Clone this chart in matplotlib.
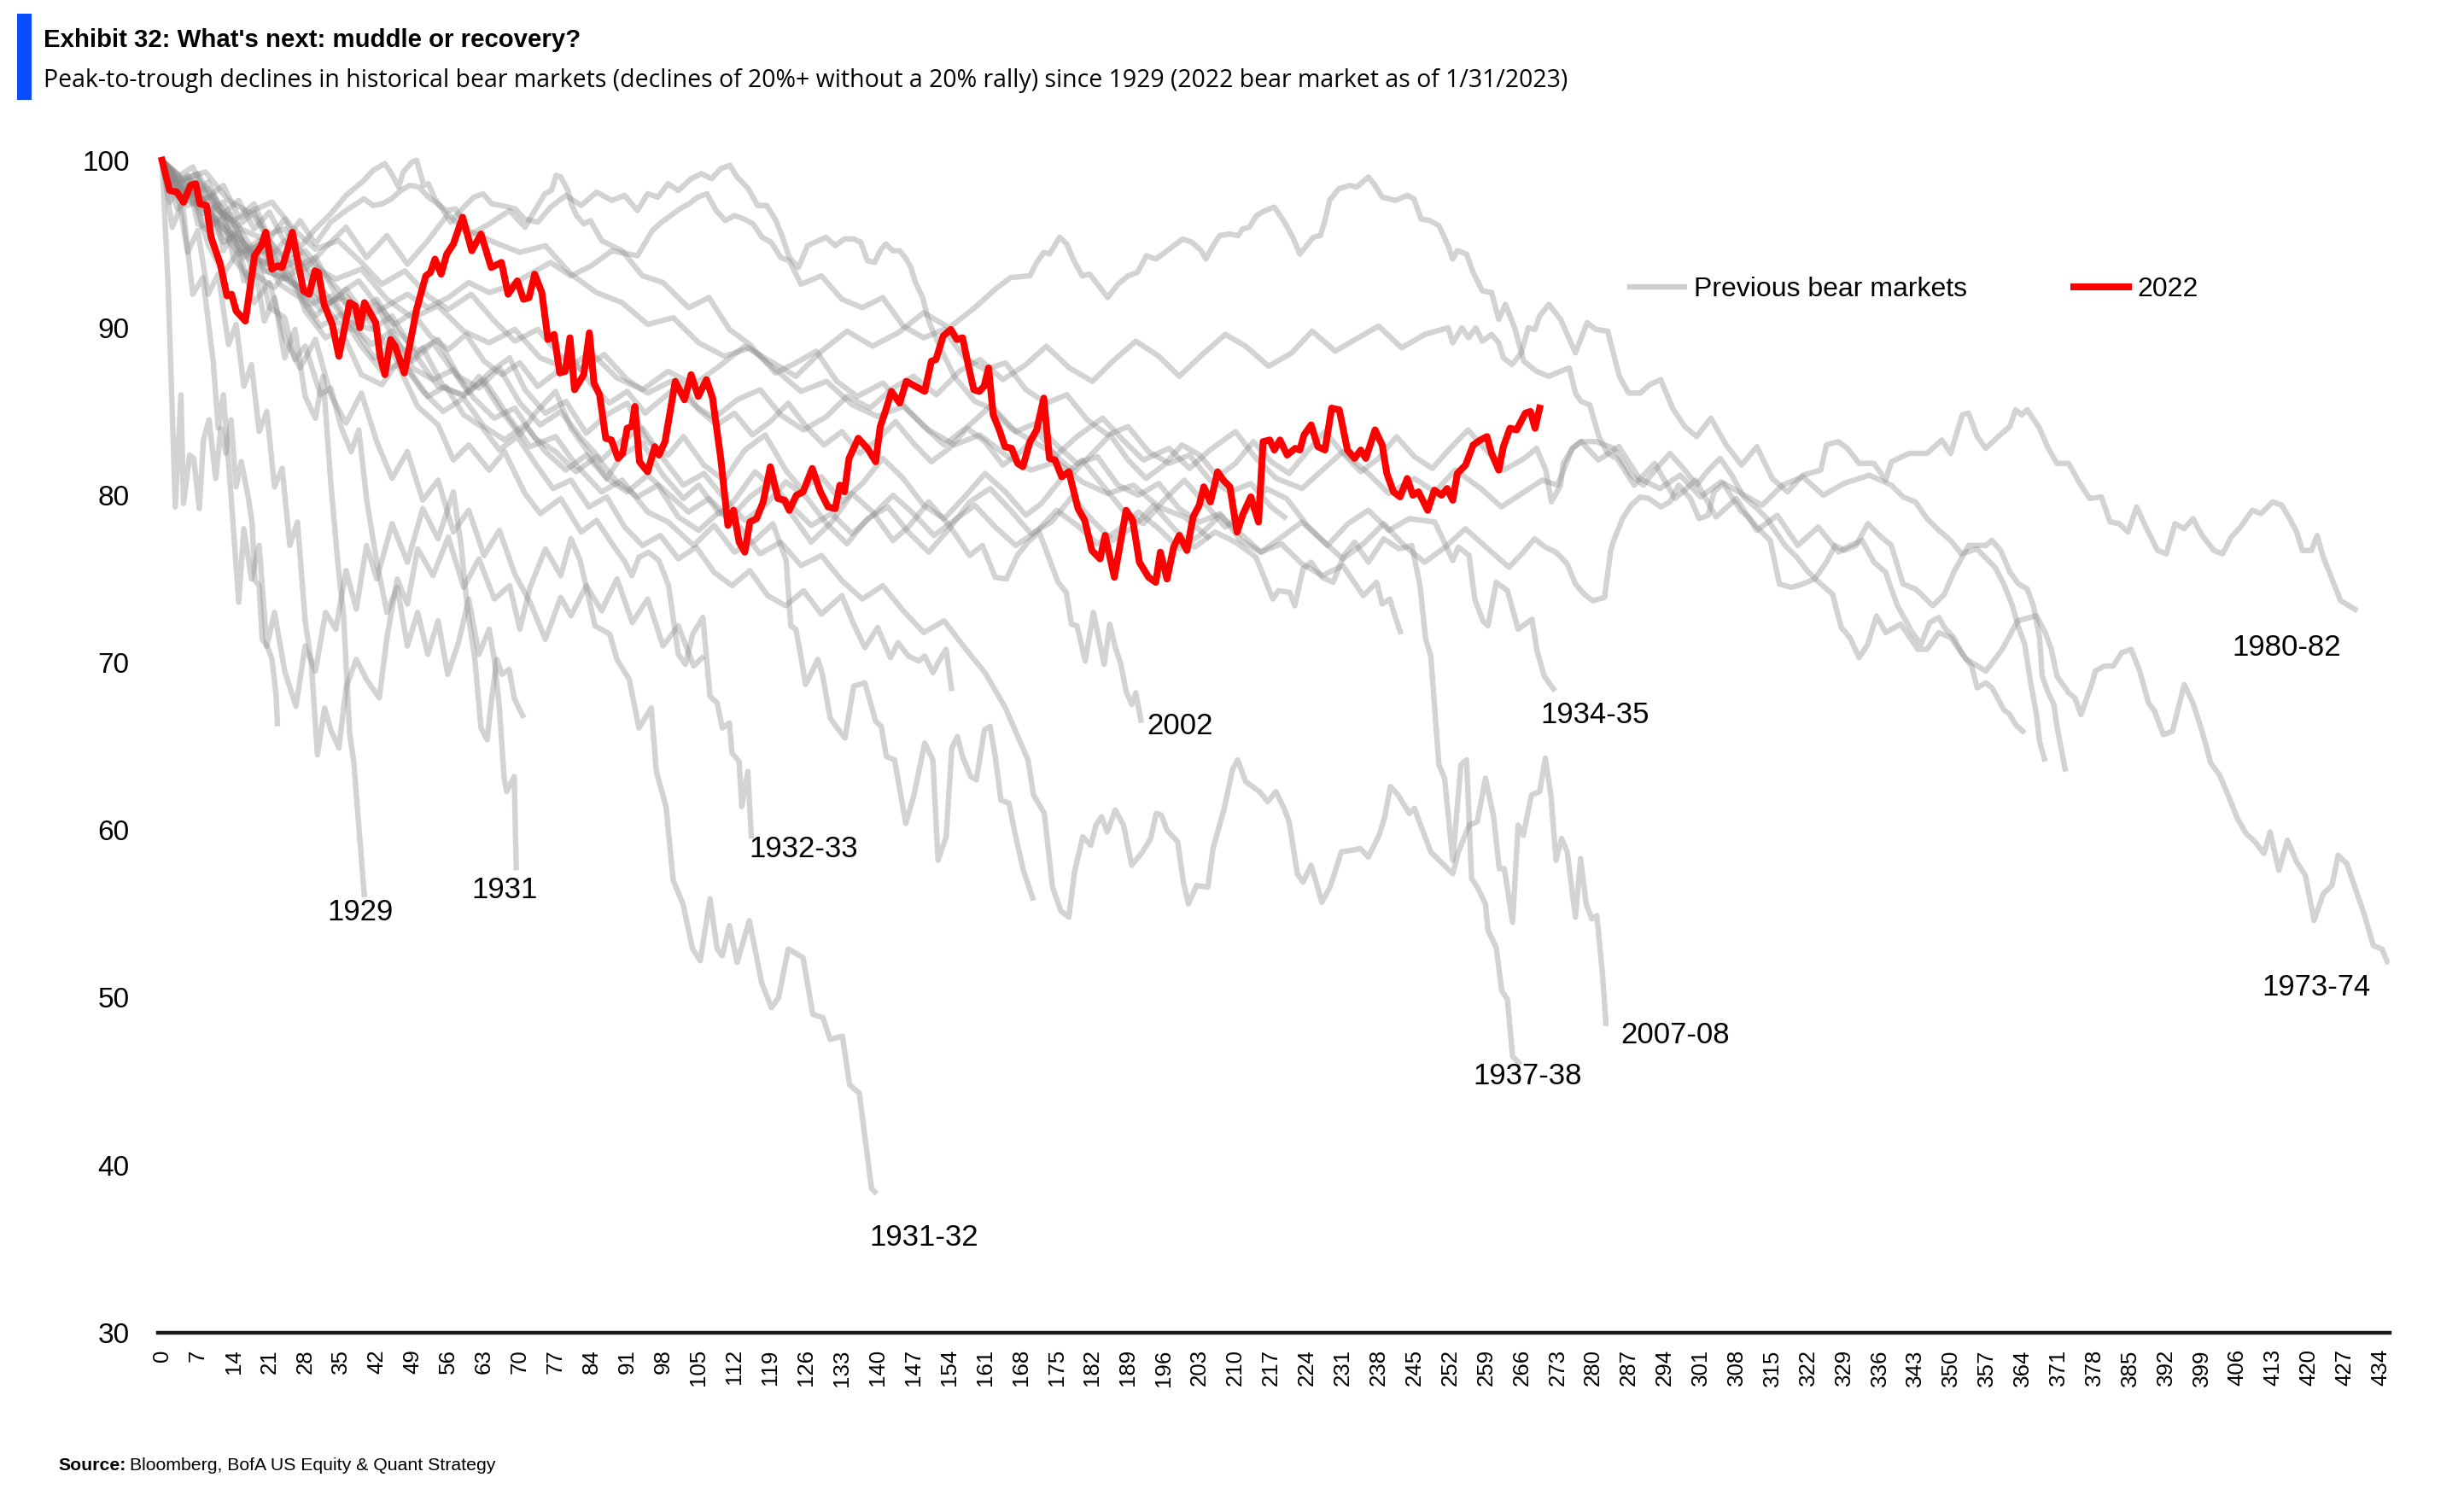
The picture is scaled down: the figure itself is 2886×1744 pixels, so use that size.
import matplotlib
matplotlib.use("Agg")
import matplotlib.pyplot as plt
from matplotlib.lines import Line2D
from matplotlib.patches import Rectangle

# ---- data: (trading day, index level with peak = 100) ----

bear_2022 = [(0, 100.0), (1.5, 98.2), (2.9, 98.1), (4.2, 97.5), (5.6, 98.5), (6.6, 98.6), (7.4, 97.4),
             (8.7, 97.3), (9.6, 95.4), (11.4, 93.8), (12.7, 91.9), (13.6, 92.0), (14.5, 91.0), (16.3, 90.4),
             (18.1, 94.3), (19.4, 94.9), (20.3, 95.7), (21.5, 93.5), (22.6, 93.7), (23.5, 93.6), (24.3, 94.4),
             (25.5, 95.7), (26.6, 93.9), (27.7, 92.2), (28.8, 92.0), (29.9, 93.4), (30.6, 93.3), (31.7, 91.4),
             (33.3, 90.2), (34.6, 88.3), (36.7, 91.5), (37.8, 91.3), (38.7, 90.0), (39.6, 91.5), (41.8, 90.3),
             (42.7, 88.2), (43.6, 87.2), (44.7, 89.3), (45.6, 88.9), (47.4, 87.3), (49.8, 91.1), (51.6, 93.1),
             (52.5, 93.3), (53.4, 94.1), (54.6, 93.2), (55.7, 94.4), (57.0, 95.0), (58.8, 96.6), (60.6, 94.6),
             (62.4, 95.6), (64.4, 93.6), (66.4, 93.9), (67.7, 92.0), (69.5, 92.8), (70.7, 91.7), (71.8, 91.8),
             (72.9, 93.2), (74.3, 92.1), (75.5, 89.3), (76.7, 89.6), (77.8, 87.3), (78.9, 87.4), (79.8, 89.4),
             (80.7, 86.3), (82.5, 87.2), (83.6, 89.7), (84.5, 86.7), (85.6, 86.0), (86.8, 83.4), (87.9, 83.3),
             (89.2, 82.2), (90.1, 82.5), (91.0, 84.0), (91.9, 84.1), (92.5, 85.3), (93.4, 82.0), (95.0, 81.4),
             (96.4, 82.9), (97.2, 82.4), (98.4, 83.2), (100.4, 86.8), (102.2, 85.7), (103.5, 87.2), (104.9, 85.9),
             (106.5, 86.9), (107.7, 85.8), (109.3, 82.2), (110.7, 78.2), (111.8, 79.1), (112.9, 77.2), (114.0, 76.6),
             (115.0, 78.4), (116.3, 78.6), (117.6, 79.6), (119.0, 81.7), (120.5, 79.8), (121.8, 79.7), (122.7, 79.1),
             (124.1, 80.0), (125.4, 80.2), (127.2, 81.6), (128.8, 80.2), (130.3, 79.3), (131.7, 79.2), (132.6, 80.6),
             (133.5, 80.2), (134.4, 82.2), (136.2, 83.4), (138.0, 82.8), (139.6, 82.0), (140.5, 84.1), (141.6, 85.1),
             (142.7, 86.2), (144.3, 85.5), (145.6, 86.8), (147.4, 86.5), (149.2, 86.2), (150.5, 88.0), (151.4, 88.1),
             (152.8, 89.5), (154.3, 89.9), (155.5, 89.3), (156.6, 89.4), (157.7, 87.8), (158.8, 86.3), (159.9, 86.2),
             (160.8, 86.5), (161.7, 87.6), (162.6, 84.8), (163.8, 83.9), (164.9, 82.9), (166.2, 82.8), (167.4, 81.9),
             (168.4, 81.7), (169.8, 83.2), (171.1, 83.9), (172.5, 85.8), (173.6, 82.2), (174.7, 82.1), (176.0, 81.1),
             (177.4, 81.4), (179.2, 79.2), (180.5, 78.5), (181.9, 76.7), (183.5, 76.2), (184.5, 77.6), (186.3, 75.1),
             (188.6, 79.1), (189.9, 78.5), (191.2, 76.0), (193.0, 75.1), (194.4, 74.8), (195.3, 76.6), (196.6, 75.0),
             (197.9, 76.9), (199.0, 77.6), (200.5, 76.7), (201.7, 78.7), (202.9, 79.4), (203.8, 80.5), (205.1, 79.6),
             (206.5, 81.4), (207.6, 80.9), (208.9, 80.5), (210.3, 77.8), (211.5, 78.9), (213.0, 79.9), (214.5, 78.4),
             (215.4, 83.2), (216.7, 83.3), (217.6, 82.7), (218.7, 83.3), (220.1, 82.4), (221.7, 82.8), (222.6, 82.7),
             (223.4, 83.6), (224.8, 84.2), (226.1, 82.9), (227.5, 82.7), (228.8, 85.2), (230.3, 85.1), (231.9, 82.7),
             (233.3, 82.2), (234.5, 82.7), (235.5, 82.2), (237.3, 83.9), (238.7, 83.0), (239.6, 81.3), (240.9, 80.2),
             (242.2, 79.9), (243.6, 81.0), (244.7, 80.0), (245.8, 80.2), (247.6, 79.1), (248.9, 80.3), (250.3, 80.0),
             (251.4, 80.4), (252.5, 79.7), (253.4, 81.3), (255.0, 81.8), (256.5, 83.0), (257.9, 83.3), (259.2, 83.5),
             (260.1, 82.5), (261.5, 81.5), (262.4, 82.9), (263.7, 84.0), (265.0, 83.9), (266.7, 84.9), (267.7, 85.0),
             (268.6, 84.0), (269.5, 85.2)]

s1929 = [(0, 100), (2, 99.3), (4, 97.6), (6, 98.5), (8, 96.1), (10, 97.2), (12, 94.6), (14, 95.7), (16, 92.8),
         (18, 93.9), (20, 90.4), (22, 91.8), (24, 88.2), (26, 89.9), (28, 85.9), (30, 84.6), (31.5, 87.1),
         (33, 80.8), (34.5, 75.6), (35.5, 72.9), (36.7, 65.8), (37.5, 64.1), (38.5, 60.2), (39.6, 56.0)]

s_early_crash = [(0, 100), (1.2, 92.5), (2.6, 79.3), (3.7, 86.0), (4.2, 79.5), (5.4, 82.4), (6.2, 82.2), (7.3, 79.2),
                 (8.1, 83.3), (9.2, 84.5), (10.5, 81.0), (11.5, 84.0), (12.5, 82.5), (13.5, 84.5), (14.5, 80.5),
                 (15.5, 82.0), (16.8, 80.0), (17.6, 78.4), (18.2, 74.9), (19.0, 74.6), (19.6, 71.4), (20.7, 70.9),
                 (21.5, 70.2), (22.3, 68.1), (22.6, 66.2)]

s1931_32 = [(0, 100), (1.5, 97.5), (3, 98.2), (5, 94.5), (7, 95.8), (9, 92.0), (11, 93.2), (13, 89.0), (14.5, 90.2),
            (16, 86.5), (17.5, 87.8), (19, 83.8), (20.5, 85.0), (22, 80.5), (23.5, 81.6), (25, 77.0), (26.5, 78.4),
            (28, 72.5), (29.2, 70.0), (30.4, 64.5), (31.8, 67.3), (33, 66.0), (34.6, 64.9), (36, 68.5), (38, 70.2),
            (40, 69.0), (42.5, 67.9), (44, 71.5), (46, 75.0), (48, 73.5), (50, 76.8), (53, 75.2), (56, 77.5),
            (59, 74.5), (62, 76.2), (65, 73.8), (68, 74.6), (70, 72.0), (72, 74.5), (75, 76.8), (78, 75.2),
            (80, 77.4), (81.8, 76.1), (84.7, 72.2), (87.6, 71.7), (89.0, 70.2), (91.4, 69.0), (93.3, 66.1),
            (95.7, 67.3), (96.7, 63.5), (98.6, 61.4), (100.0, 57.0), (101.9, 55.6), (103.8, 52.9), (105.3, 52.2),
            (107.2, 55.9), (108.6, 52.9), (109.6, 52.5), (111.0, 54.3), (112.5, 52.1), (114.9, 54.6), (117.3, 50.9),
            (119.2, 49.4), (120.6, 50.0), (122.5, 52.9), (125.4, 52.4), (127.3, 49.0), (129.3, 48.8), (130.7, 47.5),
            (133.1, 47.7), (134.5, 44.8), (136.4, 44.3), (138.8, 38.6), (139.8, 38.3)]

s1931 = [(0, 100), (2, 98.6), (5, 98.9), (7, 96.2), (9, 95.8), (12, 96.9), (14, 94.1), (17, 93.0), (19, 93.8),
         (21, 91.2), (24, 90.6), (26, 88.1), (28, 88.9), (31, 86.0), (33, 86.4), (35, 84.1), (37, 82.6),
         (38.5, 83.9), (40, 79.8), (42, 76.0), (44, 73.0), (46, 74.5), (48, 71.0), (50, 73.0), (52, 70.5),
         (54, 72.5), (55.9, 69.3), (58, 71.2), (60, 73.8), (62, 70.5), (64, 72.0), (65.0, 70.2), (66.0, 67.3),
         (66.9, 63.2), (67.4, 62.3), (68.9, 63.2), (69.3, 57.6)]

s_fast_fall = [(0, 100), (2, 96.0), (4, 97.5), (6, 92.0), (8, 93.0), (10, 88.0), (11, 84.0), (12, 86.0), (13.5, 80.0),
               (15, 73.6), (16, 78.0), (17.5, 75.0), (19, 77.0), (20.5, 71.0), (22, 73.0), (24, 69.5), (26.2, 67.4),
               (28, 71.0), (30, 69.5), (32, 73.0), (34, 72.0), (36, 75.5), (38, 73.2), (40, 77.0), (42, 75.0),
               (45, 78.3), (48, 76.0), (51, 79.2), (54, 77.4), (57, 80.2), (58.5, 77.0), (59.8, 73.1), (61.2, 70.2),
               (62.4, 66.1), (63.6, 65.4), (64.5, 67.9), (65.5, 70.2), (66.5, 69.3), (67.9, 69.6), (68.9, 67.9),
               (69.8, 67.3), (70.8, 66.7)]

s1932_33 = [(0, 100), (3, 98.4), (5, 99.1), (8, 97.6), (12, 95.1), (15, 95.7), (18, 93.2), (22, 92.4), (25, 93.6),
            (28, 91.0), (32, 89.4), (35, 89.9), (39, 87.2), (43, 86.6), (46, 87.9), (50, 85.3), (54, 84.2),
            (57, 82.1), (60, 83.0), (64, 81.5), (67, 82.6), (71, 80.1), (74, 78.9), (78, 79.8), (82, 77.8),
            (85, 78.5), (88.5, 76.9), (90.4, 76.1), (91.9, 75.2), (93.3, 76.3), (95.2, 76.6), (97.2, 76.1),
            (99.1, 74.6), (101, 70.5), (102.4, 69.9), (103.8, 71.7), (105.8, 72.7), (107.2, 68.0), (108.6, 67.6),
            (109.6, 66.1), (111.0, 66.4), (111.5, 64.6), (112.9, 64.1), (113.4, 61.4), (114.6, 63.5), (115.3, 59.5)]

s2002 = [(0, 100), (3, 98.1), (6, 98.6), (9, 96.7), (13, 95.9), (16, 94.2), (19, 95.0), (23, 93.3), (26, 92.4),
         (30, 90.7), (33, 91.5), (36, 92.3), (40, 90.6), (44, 88.9), (47, 87.6), (51, 88.8), (55, 86.5), (59, 85.9),
         (62, 87.1), (66, 85.2), (70, 83.6), (73, 84.9), (77, 86.2), (80, 84.0), (84, 82.3), (87, 81.0), (90, 82.4),
         (94, 83.1), (98, 81.2), (102, 79.8), (105, 80.6), (109, 78.9), (112, 79.7), (116, 81.4), (120, 80.3),
         (124, 78.5), (127, 77.2), (131, 78.4), (135, 80.1), (139, 79.0), (143, 77.3), (146, 78.1), (150, 79.6),
         (154, 78.2), (158, 76.4), (160.5, 77.0), (163.0, 75.1), (165.2, 75.0), (167.3, 76.4), (169.4, 77.2),
         (171.6, 77.8), (173.2, 76.5), (175.3, 74.8), (176.9, 74.2), (177.9, 72.3), (179.0, 72.2), (180.6, 70.1),
         (182.2, 73.0), (184.3, 69.9), (185.4, 72.3), (186.5, 70.9), (187.5, 70.0), (188.6, 68.3), (189.7, 67.5),
         (190.5, 68.2), (191.6, 66.4)]

s1934_35 = [(0, 100), (3, 98.7), (6, 97.4), (10, 97.9), (13, 95.8), (16, 94.6), (20, 95.4), (24, 93.1), (27, 92.3),
            (31, 91.1), (35, 92.0), (38, 90.3), (42, 91.4), (45, 89.5), (49, 88.0), (53, 89.1), (57, 87.4),
            (60, 86.1), (64, 87.3), (68, 88.2), (71, 86.3), (75, 84.9), (79, 85.6), (83, 83.7), (87, 84.8),
            (91, 85.5), (95, 83.2), (99, 82.4), (102, 83.5), (106, 81.8), (110, 80.9), (114, 82.7), (118, 83.6),
            (122, 81.5), (125, 80.4), (129, 81.1), (133, 79.6), (137, 80.7), (141, 82.2), (145, 81.0), (149, 79.4),
            (153, 78.6), (157, 79.9), (161, 81.3), (165, 80.2), (169, 78.8), (172, 79.5), (176, 81.0), (180, 82.1),
            (184, 80.6), (188, 79.1), (192, 78.3), (196, 79.7), (200, 80.9), (204, 79.5), (208, 78.1), (212, 79.0),
            (216, 80.4), (220, 79.8), (224, 78.2), (228, 77.0), (232, 78.3), (236, 79.1), (240, 77.9), (244, 78.6),
            (249, 78.4), (252.5, 76.1), (253.6, 76.9), (255.7, 76.4), (256.8, 73.8), (258.4, 72.5), (259.4, 72.2),
            (261.0, 74.8), (263.2, 74.3), (265.3, 72.0), (268.0, 72.6), (269.0, 70.7), (270.4, 69.2), (272.5, 68.3)]

s1937_38 = [(0, 100), (4, 98.8), (7, 99.2), (11, 97.0), (15, 96.1), (18, 96.9), (22, 94.7), (26, 93.6), (30, 94.2),
            (34, 92.0), (38, 90.9), (42, 91.7), (46, 89.8), (50, 88.6), (54, 89.3), (58, 87.1), (62, 86.4),
            (66, 87.6), (70, 85.5), (74, 84.2), (78, 85.0), (82, 83.4), (86, 82.1), (90, 83.3), (94, 84.0),
            (98, 82.2), (102, 80.6), (106, 81.3), (110, 79.8), (114, 78.5), (118, 79.4), (122, 80.8), (126, 79.9),
            (130, 78.3), (134, 77.1), (138, 78.6), (142, 79.3), (146, 77.8), (150, 76.6), (154, 78.0), (158, 79.6),
            (162, 80.4), (166, 79.1), (170, 77.7), (174, 78.4), (178, 79.9), (182, 78.5), (186, 77.3), (190, 78.1),
            (194, 79.4), (198, 78.0), (202, 76.9), (206, 77.8), (210, 77.2), (214, 76.3), (217.3, 73.8),
            (218.4, 74.3), (220.6, 74.2), (221.6, 73.4), (223.2, 75.6), (224.8, 76.0), (226.9, 75.1), (229.1, 74.8),
            (231.2, 76.4), (233.3, 77.2), (236, 76.0), (239, 77.4), (242, 76.8), (244.5, 77.0), (246.1, 74.6),
            (247.2, 71.4), (248.2, 70.4), (249.8, 63.9), (250.9, 63.1), (252.5, 58.2), (254.1, 63.9), (255.2, 64.2),
            (256.2, 57.1), (257.3, 56.6), (258.9, 55.6), (259.4, 54.0), (261.0, 53.0), (262.1, 50.4), (263.2, 49.9),
            (264.2, 46.5), (265.8, 46.0)]

s2007_08 = [(0, 100), (3, 98.2), (6, 98.7), (10, 96.6), (13, 95.6), (17, 94.1), (21, 94.8), (25, 93.0), (29, 91.4),
            (33, 91.9), (37, 90.2), (41, 89.0), (45, 89.8), (49, 87.6), (53, 86.9), (57, 87.5), (61, 85.8),
            (65, 84.6), (69, 85.2), (73, 83.4), (77, 82.6), (81, 81.4), (85, 82.3), (89, 80.8), (93, 79.9),
            (97, 80.6), (101, 78.7), (105, 77.9), (109, 79.0), (113, 78.1), (117, 76.5), (121, 77.2), (125, 75.8),
            (129, 76.4), (133, 74.9), (137, 73.8), (141, 74.6), (145, 73.1), (149, 71.8), (153, 72.5), (157, 70.9),
            (161, 69.4), (165, 67.3), (169.4, 64.2), (170.5, 62.1), (172.6, 61.0), (174.2, 56.6), (175.8, 55.2),
            (177.4, 54.8), (178.5, 57.5), (180.1, 59.6), (181.7, 59.1), (182.7, 60.3), (183.8, 60.8), (184.9, 59.9),
            (186.5, 61.2), (188.1, 60.3), (189.7, 57.9), (191.8, 58.7), (193.4, 59.5), (194.5, 61.0), (195.5, 60.9),
            (196.6, 60.0), (198.7, 59.3), (199.8, 56.9), (200.8, 55.6), (202.4, 56.7), (204.6, 56.6), (205.6, 58.9),
            (207.8, 61.3), (209.4, 63.6), (210.4, 64.2), (212.0, 62.9), (214.7, 62.3), (216.3, 61.7), (217.9, 62.3),
            (219.5, 61.3), (220.5, 60.5), (222.1, 57.4), (223.2, 56.9), (224.8, 57.9), (226.9, 55.7), (228.5, 56.6),
            (230.7, 58.7), (232.8, 58.8), (234.4, 58.9), (236.0, 58.4), (238.1, 59.7), (239.2, 60.8), (240.3, 62.6),
            (241.8, 62.1), (244.0, 61.0), (245.0, 61.3), (248.2, 58.7), (252.5, 57.4), (253.6, 58.7), (255.7, 60.3),
            (257.3, 60.5), (258.9, 63.1), (260.5, 60.8), (261.6, 57.7), (262.6, 57.7), (264.2, 54.5), (265.3, 60.3),
            (266.3, 59.7), (267.9, 62.1), (269.5, 62.3), (270.6, 64.3), (271.7, 62.1), (272.7, 58.2), (273.8, 59.5),
            (274.9, 58.7), (276.5, 54.8), (277.5, 58.3), (278.6, 55.6), (279.7, 54.7), (280.7, 54.9), (281.8, 51.4),
            (282.5, 48.3)]

s_mid_a = [(0, 100), (5, 97.3), (9, 97.8), (14, 95.9), (18, 94.2), (23, 93.5), (27, 94.1), (32, 92.0), (36, 90.4),
           (41, 89.9), (45, 90.7), (50, 88.2), (54, 86.5), (59, 86.0), (63, 86.9), (68, 84.6), (72, 82.9), (77, 83.5),
           (81, 81.8), (86, 80.2), (90, 80.9), (95, 79.0), (99, 78.4), (104, 77.0), (108, 78.2), (112, 76.6),
           (116, 77.3), (119.5, 78.3), (122.1, 76.1), (123.0, 72.2), (124.0, 72.0), (124.9, 70.5), (125.9, 68.7),
           (126.9, 69.3), (128.3, 70.2), (129.2, 69.3), (130.7, 66.7), (132.1, 66.1), (133.6, 65.5), (135.3, 68.6),
           (137.5, 68.8), (139.6, 66.5), (140.7, 66.2), (141.7, 64.4), (143.3, 64.2), (145.5, 60.4), (147.1, 62.1),
           (149.2, 65.2), (150.8, 64.2), (151.8, 58.2), (153.4, 59.6), (154.5, 64.9), (155.6, 65.6), (156.6, 64.4),
           (158.2, 63.2), (159.3, 63.0), (160.9, 66.0), (162.0, 66.2), (163.0, 64.4), (164.1, 61.8), (165.7, 61.6),
           (166.8, 59.9), (168.5, 57.6), (170.5, 55.8)]

s_mid_b = [(0, 100), (3, 98.5), (6.5, 98.0), (10, 96.2), (13.5, 96.8), (17, 95.0), (20.5, 93.4), (24, 92.9),
           (27.5, 93.7), (31, 91.6), (34.5, 90.3), (38, 89.8), (41.5, 88.2), (45, 88.9), (48.5, 87.4), (52, 85.9),
           (55.5, 86.5), (59, 84.8), (62.5, 84.1), (66, 82.7), (69.5, 83.5), (73, 81.9), (76.5, 80.4), (80, 80.9),
           (83.5, 79.3), (87, 79.9), (90.5, 78.1), (94, 77.0), (97.5, 77.6), (101, 76.2), (104.5, 76.9), (108, 75.4),
           (111.5, 74.6), (115, 75.5), (118.5, 74.0), (122, 73.4), (125.5, 74.3), (129, 72.9), (133, 74.0),
           (135.3, 72.3), (137.5, 70.9), (140, 72.1), (142.5, 70.3), (144, 71.2), (146.0, 70.4), (148.1, 70.1),
           (149.2, 70.4), (150.8, 69.4), (151.8, 70.0), (153.4, 70.8), (154.5, 68.3)]

s1980_82 = [(0, 100), (4, 98.9), (8.5, 99.3), (13, 97.6), (17, 96.9), (21.5, 97.5), (26, 95.8), (30, 94.7),
            (34.5, 95.2), (39, 93.9), (43, 92.6), (47.5, 93.4), (52, 91.9), (56, 91.1), (60.5, 92.0), (65, 90.4),
            (69, 89.2), (73.5, 89.9), (78, 88.3), (82, 87.5), (86.5, 88.4), (91, 86.9), (95, 86.1), (99.5, 86.8),
            (104, 85.4), (108, 84.6), (112.5, 85.7), (117, 86.3), (121, 84.8), (125.5, 83.9), (130, 84.7),
            (134, 85.9), (138.5, 85.2), (143, 86.4), (147, 87.1), (151.5, 86.0), (156, 87.4), (160, 88.1),
            (164.5, 86.9), (169, 87.8), (173, 88.9), (177.5, 87.6), (182, 86.8), (186, 88.0), (190.5, 89.2),
            (195, 88.3), (199, 87.1), (203.5, 88.4), (208, 89.6), (212, 88.9), (216.5, 87.7), (221, 88.5),
            (225, 89.8), (229.5, 88.6), (234, 89.4), (238, 90.1), (242.5, 88.8), (247, 89.6), (251.6, 90.0),
            (252.5, 89.1), (254.3, 90.0), (255.6, 89.4), (257.0, 90.0), (258.3, 89.2), (260.1, 89.6), (261.5, 89.1),
            (262.4, 88.2), (264.1, 87.8), (265.9, 88.5), (267.3, 90.0), (268.6, 89.9), (269.5, 90.7), (271.3, 91.4),
            (273.6, 90.5), (276.5, 88.5), (278.8, 90.3), (280.5, 89.9), (282.8, 89.8), (285.1, 87.1), (286.9, 86.1),
            (289.2, 86.1), (291, 86.6), (293.2, 86.9), (295.5, 85.2), (297.9, 84.1), (300.2, 83.5), (303, 84.6),
            (306, 83.0), (309, 81.8), (312, 82.9), (315, 81.0), (318, 80.2), (321, 81.2), (324.5, 81.5),
            (325.6, 83.0), (327.9, 83.2), (329.7, 82.8), (332.0, 81.9), (334.9, 81.9), (337.2, 80.9), (338.3, 82.0),
            (341.8, 82.5), (345.3, 82.5), (348.2, 83.3), (349.9, 82.5), (352.2, 84.8), (353.4, 84.9), (355.1, 83.5),
            (356.8, 82.8), (359.2, 83.5), (361.5, 84.1), (362.6, 85.1), (363.8, 84.8), (364.9, 85.1), (367.3, 84.0),
            (369.0, 82.8), (370.7, 81.9), (373.0, 81.9), (374.8, 80.9), (377.1, 79.8), (379.4, 79.9), (381.1, 78.4),
            (382.9, 78.3), (384.6, 77.8), (386.3, 79.3), (388.1, 78.1), (390.4, 76.7), (392.1, 76.5), (393.8, 78.3),
            (395.6, 78.0), (397.3, 78.6), (399.1, 77.6), (401.4, 76.7), (403.1, 76.5), (404.8, 77.5), (406.6, 78.1),
            (408.9, 79.1), (410.6, 78.9), (412.9, 79.6), (414.7, 79.4), (416.4, 78.5), (417.6, 77.8), (418.7, 76.7),
            (420.5, 76.7), (421.6, 77.6), (422.8, 76.3), (424.5, 75.0), (426.2, 73.7), (429.5, 73.1)]

s1973_74 = [(0, 100), (3.5, 98.6), (7, 98.9), (10.5, 97.1), (14, 96.4), (17.5, 96.9), (21, 95.2), (24.5, 94.0),
            (28, 94.6), (31.5, 93.3), (35, 92.1), (38.5, 92.8), (42, 91.4), (45.5, 90.2), (49, 90.9), (52.5, 89.5),
            (56, 88.7), (59.5, 89.6), (63, 88.0), (66.5, 87.2), (70, 87.9), (73.5, 86.5), (77, 87.3), (80.5, 88.1),
            (84, 86.6), (87.5, 85.5), (91, 86.2), (94.5, 84.9), (98, 85.8), (101.5, 86.7), (105, 85.1), (108.5, 84.2),
            (112, 84.9), (115.5, 83.6), (119, 84.4), (122.5, 85.5), (126, 84.1), (129.5, 83.0), (133, 83.8),
            (136.5, 82.5), (140, 83.3), (143.5, 84.4), (147, 83.1), (150.5, 82.0), (154, 82.8), (157.5, 84.0),
            (161, 83.2), (164.5, 81.8), (168, 82.6), (171.5, 83.7), (175, 82.3), (178.5, 81.4), (182, 82.5),
            (185.5, 83.6), (189, 82.1), (192.5, 81.0), (196, 81.8), (199.5, 83.0), (203, 82.4), (206.5, 81.1),
            (210, 81.9), (213.5, 83.2), (217, 82.0), (220.5, 81.3), (224, 82.6), (227.5, 83.8), (231, 82.5),
            (234.5, 81.4), (238, 82.2), (241.5, 83.5), (245, 82.3), (248.5, 81.6), (252, 82.8), (255.5, 83.9),
            (259, 82.7), (262.5, 81.5), (266.5, 82.2), (268.9, 82.8), (270.7, 81.5), (271.8, 79.6), (273.6, 80.6),
            (274.1, 81.9), (275.9, 82.8), (277.6, 83.2), (280.5, 83.2), (284.0, 82.8), (287.4, 81.2), (289.8, 80.6),
            (292.1, 81.5), (295.0, 82.5), (297.9, 81.5), (300.2, 80.6), (302.5, 81.5), (304.8, 82.2), (307.1, 81.2),
            (309.4, 79.9), (311.7, 79.3), (314.0, 78.6), (317.5, 77.0), (319.8, 76.3), (322.1, 75.4), (324.5, 74.7),
            (326.8, 74.1), (328.5, 72.1), (330.2, 71.5), (332.0, 70.3), (333.7, 71.1), (335.4, 72.8), (337.2, 71.8),
            (340.1, 72.3), (343.5, 70.8), (345.3, 70.8), (347.6, 71.8), (349.9, 71.5), (353, 70.2), (356.8, 69.5),
            (360, 70.8), (363, 72.5), (366.7, 72.8), (368.4, 71.8), (369.6, 70.8), (370.7, 69.2), (373, 68.2),
            (374.2, 67.9), (375.4, 66.9), (377.7, 68.9), (378.2, 69.5), (380, 69.8), (381.7, 69.8), (383.4, 70.6),
            (385.2, 70.8), (386.9, 69.5), (388.6, 67.6), (389.8, 67.1), (391.5, 65.7), (393.3, 65.9), (395.6, 68.7),
            (397.3, 67.6), (399.1, 65.9), (400.8, 64.0), (402.5, 63.3), (404.3, 62.0), (406.0, 60.7), (407.7, 59.8),
            (409.5, 59.3), (411.2, 58.6), (412.4, 59.9), (414.1, 57.6), (415.8, 59.4), (417.6, 58.1), (419.3, 57.3),
            (421.0, 54.6), (422.8, 56.2), (424.5, 56.7), (425.7, 58.5), (427.4, 58.0), (429.1, 56.5), (430.9, 54.9),
            (432.6, 53.1), (434.3, 52.9), (435.5, 52.0)]

s_top = [(0, 100), (3, 99.0), (6, 99.6), (9, 97.8), (12, 98.5), (15, 96.6), (18, 97.4), (21, 95.3), (24, 96.5),
         (27, 94.8), (30, 95.9), (33, 96.8), (36, 97.9), (39.5, 98.8), (41.3, 99.4), (43.6, 99.8), (44.9, 99.2),
         (46.3, 98.4), (47.2, 99.3), (48.9, 99.9), (49.8, 100.0), (51.2, 98.5), (52.1, 98.6), (53.4, 97.7),
         (54.8, 97.1), (56.5, 96.3), (59, 97.2), (61, 97.8), (62.8, 98.0), (64.5, 97.4), (66.4, 97.3), (69.1, 97.1),
         (70.9, 96.5), (73.5, 96.3), (76, 97.2), (79, 97.9), (82, 97.3), (85, 98.1), (88, 97.6), (90.5, 97.9),
         (93, 97.0), (95, 98.0), (97, 97.8), (99, 98.6), (101, 98.2), (103.5, 98.9), (105.5, 99.2), (107.5, 98.9),
         (109.3, 99.5), (111.1, 99.7), (112.5, 99.0), (114.7, 98.3), (116.5, 97.3), (118.3, 97.3), (120.1, 96.4),
         (121.4, 95.4), (122.7, 94.2), (124.5, 93.6), (126.3, 94.9), (127.7, 95.1), (129.9, 95.4), (131.7, 94.9),
         (133.5, 95.3), (135.3, 95.3), (136.7, 95.1), (138.0, 94.0), (139.4, 93.9), (140.7, 94.7), (141.6, 95.0),
         (143.0, 94.6), (144.3, 94.6), (145.6, 94.1), (146.5, 93.6), (147.4, 92.7), (148.8, 91.8), (149.7, 90.7),
         (150.5, 90.0), (151.4, 89.4), (153.2, 88.2), (155, 87.1), (159, 85.6), (163, 85.1), (167, 83.8),
         (171, 84.3), (175, 83.0), (179, 81.9), (183, 82.3), (187, 80.6), (191, 80.0), (195, 80.7), (199, 79.2),
         (203, 78.4), (207, 78.9), (211, 77.3), (215, 76.6), (219, 77.1), (223, 75.9), (227, 75.2), (231, 75.8),
         (235, 74.0), (237.6, 74.8), (238.7, 73.5), (240.2, 73.8), (241.3, 72.7), (242.4, 71.7)]

s_upper_a = [(0, 100), (4, 98.5), (8, 96.8), (12, 97.5), (16, 95.0), (20, 93.8), (24, 95.2), (28, 93.5), (32, 94.8),
             (36, 96.0), (40, 94.2), (44, 95.5), (48, 93.8), (52, 95.2), (56, 96.8), (60, 95.5), (64, 96.2),
             (68, 97.0), (71, 96.0), (73.5, 97.3), (74.9, 98.0), (76.2, 98.2), (77.1, 99.1), (78.0, 99.0),
             (79.4, 98.2), (80.2, 97.3), (81.1, 96.7), (82.5, 96.2), (83.8, 96.4), (86, 95.2), (90, 94.6),
             (94, 93.1), (98, 92.7), (103, 91.2), (107, 91.8), (111, 89.9), (115, 89.0), (120, 87.3), (124, 87.9),
             (128, 88.6), (132, 86.8), (136, 85.9), (141, 86.7), (145, 85.4), (149, 84.1), (153, 83.0), (158, 84.2),
             (162, 85.3), (166, 84.0), (171, 83.1), (175, 82.4), (179, 83.5), (184, 84.6), (188, 83.3), (192, 82.1),
             (197, 82.8), (201, 81.6), (205, 82.7), (210, 83.8), (214, 82.2), (218, 81.0), (223, 80.4), (227, 81.5),
             (231, 82.6), (236, 81.3), (240, 80.1), (245, 81.0), (249, 80.2), (253, 81.5), (258, 80.4), (262, 79.3),
             (266, 80.1), (270, 80.9), (273, 80.6), (275.9, 82.8), (277.6, 83.2), (281, 82.1), (285, 82.9),
             (289, 81.0), (293, 80.4), (297, 81.2), (301, 79.9), (305, 80.8), (309, 80.1), (313, 79.4), (317, 80.6),
             (321, 81.1), (325, 80.0), (329, 80.7), (334, 81.2), (338.3, 80.6), (340.6, 79.9), (343.0, 79.6),
             (345.3, 78.6), (347.6, 77.9), (349.9, 77.3), (352, 76.5), (355, 76.8), (358.6, 75.7), (360.3, 74.7),
             (362.0, 73.4), (363.2, 72.1), (364.4, 71.1), (365.5, 68.9), (366.7, 66.9), (367.3, 65.3), (368.4, 64.1)]

s_upper_b = [(0, 100), (4.5, 97.9), (9, 98.3), (14, 96.1), (19, 95.4), (24, 95.9), (29, 93.8), (34, 92.9),
             (39, 93.5), (44, 91.7), (49, 90.6), (54, 91.3), (59, 89.8), (64, 89.1), (69, 89.9), (74, 88.2),
             (79, 87.6), (84, 88.5), (89, 87.0), (94, 86.3), (99, 87.4), (104, 86.6), (109, 87.7), (114, 88.9),
             (119, 88.0), (124, 87.1), (129, 88.6), (134, 89.8), (139, 88.9), (144, 89.7), (149, 90.9), (154, 90.0),
             (159, 91.2), (163, 92.3), (166, 93.0), (169.8, 93.1), (171.1, 93.9), (172.5, 94.5), (173.6, 94.4),
             (175.6, 95.4), (177, 95.0), (178.4, 94.0), (180, 93.1), (181.5, 93.2), (183, 92.6), (185, 91.8),
             (187, 92.6), (189.0, 93.1), (190.8, 93.3), (192.6, 94.3), (194.4, 94.1), (196.2, 94.5), (197.9, 94.9),
             (199.7, 95.3), (201.5, 95.1), (203.3, 94.6), (204.2, 94.1), (205.6, 94.9), (206.9, 95.5), (208.7, 95.6),
             (210.5, 95.5), (211.4, 95.9), (212.7, 96.0), (214.1, 96.7), (215.8, 97.0), (217.6, 97.2), (219.4, 96.4),
             (221.2, 95.4), (222.6, 94.4), (223.9, 94.9), (225.2, 95.4), (226.6, 95.5), (227.5, 96.4), (228.4, 97.6),
             (230.2, 98.3), (232.4, 98.5), (233.7, 98.4), (236.0, 99.0), (237.3, 98.5), (238.7, 97.8), (241.3, 97.6),
             (243.6, 97.9), (244.9, 97.7), (246.3, 96.5), (248.0, 96.4), (249.8, 96.1), (251.6, 94.9), (252.5, 94.1),
             (253.4, 94.6), (255.2, 94.4), (256.5, 93.3), (258.3, 92.2), (260.1, 92.1), (261.5, 90.5), (262.8, 91.4),
             (264.6, 90.0), (266.4, 88.0), (268.9, 87.4), (271.3, 87.1), (273.6, 87.4), (275.3, 87.6), (276.5, 86.1),
             (277.6, 85.6), (279.3, 85.4), (281.1, 83.5), (282.8, 82.5), (284.6, 82.2), (288, 80.6), (292, 81.9),
             (296, 79.8), (300, 80.9), (304, 78.7), (308, 79.8), (312, 77.9), (316, 78.8), (320, 77.0), (324, 78.1),
             (328, 76.6), (330.2, 77.0), (332.6, 77.3), (334.9, 76.0), (337.2, 75.4), (338.3, 74.4), (339.5, 73.4),
             (340.6, 72.8), (342.4, 71.8), (344.1, 71.1), (345.8, 72.4), (347.6, 72.7), (348.7, 72.1), (350.5, 71.5),
             (352.2, 70.5), (354.0, 69.8), (355.1, 68.5), (356.8, 68.8), (358.0, 68.5), (360.3, 67.2), (361.5, 66.9),
             (362.6, 66.3), (364.4, 65.8)]

s_long_c = [(0, 100), (3.5, 97.9), (7, 98.3), (11, 96.0), (15, 94.4), (19, 94.9), (23, 92.6), (27, 91.8), (31, 90.1),
            (35, 90.8), (39, 88.9), (43, 87.4), (47, 87.9), (51, 86.2), (55, 85.0), (59, 85.8), (63, 84.1),
            (67, 83.3), (71, 84.2), (75, 82.6), (79, 81.5), (83, 82.4), (87, 81.0), (91, 80.2), (95, 81.2),
            (99, 80.1), (103, 79.0), (107, 79.8), (111, 78.6), (115, 79.9), (119, 80.8), (123, 79.4), (127, 78.2),
            (131, 78.9), (135, 77.7), (139, 78.8), (143, 80.0), (147, 78.9), (151, 77.6), (155, 78.5), (159, 79.4),
            (163, 78.1), (167, 77.0), (171, 77.8), (175, 79.1), (179, 78.2), (183, 77.1), (187, 77.9), (191, 79.0),
            (195, 78.0), (199, 76.8), (203, 77.6), (207, 78.8), (211, 77.7), (215, 76.6), (219, 77.5), (223, 78.4),
            (227, 77.3), (231, 76.2), (235, 77.1), (239, 78.3), (243, 77.0), (247, 76.0), (251, 76.9), (255, 78.0),
            (259, 76.9), (263.5, 75.7), (266.3, 76.6), (268.5, 77.4), (270.6, 76.9), (272.7, 76.6), (274.9, 75.9),
            (276.5, 74.7), (278.2, 74.1), (279.9, 73.7), (282.2, 73.9), (283.4, 76.7), (284.0, 77.3), (285.7, 78.6),
            (287.4, 79.4), (289.2, 79.9), (290.9, 79.8), (293.2, 79.3), (295.0, 79.6), (296.7, 80.6), (299.0, 79.8),
            (300.7, 78.6), (302.5, 78.8), (303.6, 80.2), (305.4, 80.7), (307.1, 79.9), (308.8, 79.1), (310.6, 78.6),
            (312.3, 78.0), (314.6, 77.3), (316.4, 74.7), (318.7, 74.5), (321.0, 74.7), (323.3, 75.0), (325.6, 76.0),
            (327.3, 77.0), (329.1, 76.7), (331.4, 77.0), (333.7, 78.3), (336.0, 77.6), (338.3, 77.0), (340.6, 74.7),
            (343.0, 74.4), (344.1, 74.1), (346.4, 73.4), (348.7, 74.1), (350.5, 75.4), (351.6, 76.0), (353.4, 77.0),
            (356.8, 77.0), (358.0, 77.3), (359.7, 76.7), (361.5, 75.4), (363.2, 74.7), (364.9, 74.4), (366.1, 73.4),
            (367.3, 71.5), (367.8, 69.2), (369.0, 68.2), (370.1, 67.5), (370.7, 66.2), (372.4, 63.5)]

s_upper_d = [(0, 100), (3, 99.2), (6, 97.9), (9, 98.7), (12, 96.8), (15, 97.6), (18, 95.9), (21, 96.9), (24, 95.1),
             (27, 96.4), (30, 95.0), (33, 96.3), (36, 97.0), (39.5, 97.7), (41.3, 97.3), (43.1, 97.4), (44.9, 97.7),
             (46.7, 98.2), (48.5, 98.5), (50.3, 98.4), (52.1, 97.8), (53.9, 97.4), (55.6, 97.0), (57.4, 97.1),
             (60, 95.8), (65, 95.1), (70, 94.5), (75, 94.9), (80, 93.2), (85, 92.1), (90, 91.5), (95, 90.2),
             (100, 90.6), (105, 89.1), (110, 88.3), (115, 88.8), (120, 87.5), (125, 86.2), (130, 86.8), (135, 85.4),
             (140, 84.7), (145, 85.3), (150, 83.9), (155, 83.0), (160, 83.6), (165, 82.4), (170, 81.5), (175, 82.0),
             (180, 80.8), (185, 80.1), (190, 80.6), (195, 79.3), (200, 78.7), (205, 77.4)]

s_upper_e = [(0, 100), (4, 98.2), (8, 97.6), (12, 95.9), (16, 95.1), (20, 93.4), (24, 93.0), (28, 92.2), (32, 91.4),
             (36, 91.9), (40, 90.6), (44, 91.3), (48, 92.0), (52, 91.2), (56, 91.8), (60, 92.7), (64, 92.1),
             (68, 92.5), (72, 93.2), (76, 93.9), (80, 93.1), (84, 93.7), (88, 94.6), (93, 94.3), (95.9, 95.8),
             (97.7, 96.3), (99.5, 96.7), (101.3, 97.1), (103.1, 97.4), (104.8, 97.8), (106.6, 98.0), (108.4, 97.0),
             (110.2, 96.4), (112.0, 96.7), (113.8, 96.5), (115.6, 96.2), (117.4, 95.4), (119.2, 95.1), (121.0, 94.2),
             (122.7, 94.0), (125, 92.6), (129, 93.1), (133, 91.7), (137, 91.2), (141, 91.8), (145, 90.1), (149, 89.4),
             (153, 89.9), (157, 88.2), (161, 87.5), (165, 87.9), (169, 86.3), (173, 85.5), (177, 86.0), (181, 84.5),
             (185, 83.6), (189, 84.1), (193, 82.6), (197, 81.9), (201, 82.4), (205, 80.9), (209, 80.2), (213, 80.7),
             (217, 79.3), (220, 78.6)]

s_low_f = [(0, 100), (3, 97.1), (6, 97.9), (9, 95.0), (12, 93.2), (15, 94.6), (18, 91.5), (21, 92.7), (24, 89.4),
           (27, 87.6), (30, 89.3), (33, 86.0), (36, 84.3), (39, 86.1), (42, 83.2), (45, 81.0), (48, 82.6), (51, 79.7),
           (54, 80.9), (57, 77.8), (60, 79.1), (63, 76.4), (66, 77.9), (69, 75.3), (72, 73.6), (75, 71.4),
           (78, 73.9), (80, 72.8), (83, 74.6), (86, 73.1), (89, 75.0), (92, 72.4), (95, 73.8), (98, 71.0),
           (101, 72.2), (104, 69.8), (106, 70.4)]

previous_bears = [s1929, s_early_crash, s1931_32, s1931, s_fast_fall, s1932_33, s2002, s1934_35, s1937_38,
                  s2007_08, s_mid_a, s_mid_b, s1980_82, s1973_74, s_top, s_upper_a, s_upper_b, s_long_c,
                  s_upper_d, s_upper_e, s_low_f]

# end labels: text, series, offset from the last point in points
end_labels = [("1929", s1929, (-1.8, -6.5)), ("1931", s1931, (-5.0, -8.3)),
              ("1932-33", s1932_33, (22.0, -4.3)), ("1931-32", s1931_32, (19.8, -18.4)),
              ("2002", s2002, (16.2, -1.4)), ("1934-35", s1934_35, (16.9, -10.1)),
              ("1937-38", s1937_38, (2.9, -5.0)), ("2007-08", s2007_08, (29.2, -4.0)),
              ("1980-82", s1980_82, (-29.9, -15.5)), ("1973-74", s1973_74, (-30.2, -9.7))]

x_ticks = list(range(0, 435, 7))
y_ticks = [30, 40, 50, 60, 70, 80, 90, 100]

title = "Exhibit 32: What's next: muddle or recovery?"
subtitle = ("Peak-to-trough declines in historical bear markets (declines of 20%+ without a 20% rally) "
            "since 1929 (2022 bear market as of 1/31/2023)")
source_rest = "Bloomberg, BofA US Equity & Quant Strategy"

# ---- drawing ----
W, H, DPI = 2886, 1744, 200
NARROW = ["Liberation Sans Narrow", "Liberation Sans", "DejaVu Sans"]
ARIAL = ["Liberation Sans", "DejaVu Sans"]
LIGHT = ["Open Sans", "Liberation Sans", "DejaVu Sans"]
plt.rcParams["font.family"] = NARROW

fig = plt.figure(figsize=(W / DPI, H / DPI), dpi=DPI)
ax = fig.add_axes([185 / W, 1 - 1560.8 / H, (2799 - 185) / W, (1560.8 - 168.1) / H])

gray = "#8c8c8c"
for s in previous_bears:
    d, v = zip(*s)
    ax.plot(d, v, color=gray, alpha=0.38, lw=2.3, solid_joinstyle="round", solid_capstyle="butt")

d, v = zip(*bear_2022)
ax.plot(d, v, color="#ff0000", lw=2.9, solid_joinstyle="round", zorder=5)

for text, s, off in end_labels:
    ax.annotate(text, xy=s[-1], xytext=off, textcoords="offset points", ha="center", va="center",
                fontsize=12.5, family=NARROW, color="#000000")

ax.set_xlim(-0.8, 435.8)
ax.set_ylim(30, 101)
ax.set_xticks(x_ticks)
ax.set_xticklabels([str(t) for t in x_ticks], rotation=90, fontsize=9.3, family=ARIAL)
ax.set_yticks(y_ticks)
ax.set_yticklabels([str(t) for t in y_ticks], fontsize=12, family=NARROW)
ax.tick_params(length=0)
ax.tick_params(axis="x", pad=7)
ax.tick_params(axis="y", pad=12)
for side in ["top", "right", "left"]:
    ax.spines[side].set_visible(False)
ax.spines["bottom"].set_linewidth(1.6)
ax.spines["bottom"].set_color("#1a1a1a")
ax.patch.set_visible(False)

handles = [Line2D([], [], color="#cfcfcf", lw=2.3), Line2D([], [], color="#ff0000", lw=2.9)]
ax.legend(handles, ["Previous bear markets", "2022"], loc="center left",
          bbox_to_anchor=(1909 / W, 1 - 339 / H), bbox_transform=fig.transFigure, ncol=2, frameon=False,
          handlelength=2.0, handletextpad=0.35, columnspacing=3.9, borderpad=0, borderaxespad=0,
          prop={"family": NARROW, "size": 11.5})

# header and footer
fig.add_artist(Rectangle((20 / W, 1 - 117 / H), 17 / W, 101 / H, transform=fig.transFigure,
                         facecolor="#0a4dff", edgecolor="none"))
t_title = fig.text(51 / W, 1 - 55 / H, title, fontsize=11.5, fontweight="bold", family=NARROW, va="baseline")
t_sub = fig.text(51 / W, 1 - 102 / H, subtitle, fontsize=10, family=LIGHT, va="baseline")
t_src = fig.text(68 / W, 1 - 1722 / H, "Source:", fontsize=7.5, fontweight="bold", family=NARROW, va="baseline")

renderer = fig.canvas.get_renderer()


def fit_width(t, target_px):
    w = t.get_window_extent(renderer).width
    t.set_fontsize(t.get_fontsize() * target_px / w)


fit_width(t_title, 630)
fit_width(t_sub, 1789)
fit_width(t_src, 80)
src_end = t_src.get_window_extent(renderer).x1
fig.text((src_end + 5) / W, 1 - 1722 / H, source_rest, fontsize=t_src.get_fontsize(), family=NARROW,
         va="baseline")

fig.savefig("out.png", dpi=DPI)
